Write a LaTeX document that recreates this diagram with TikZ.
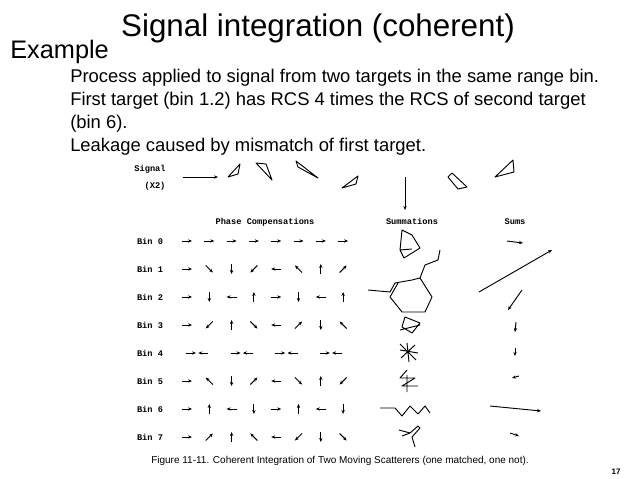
\documentclass[tikz,border=0pt]{standalone}
\usepackage{fontspec}
\setmainfont{Liberation Sans}
\newfontfamily\plotfont{Liberation Mono}
\usetikzlibrary{arrows.meta}
\tikzset{
 ph/.style={-{Stealth[length=3pt,width=2.5pt]},line width=0.7pt},
 sm/.style={line width=0.7pt,line join=round},
 lab/.style={font=\plotfont\bfseries\fontsize{6.5}{7}\selectfont,inner sep=0pt,anchor=base},
 body/.style={font=\fontsize{13.8}{16}\selectfont,anchor=west,inner sep=0pt}
}
\begin{document}
\begin{tikzpicture}[x=0.75pt,y=-0.75pt]
\useasboundingbox (0,0) rectangle (638,478);
\node[font=\fontsize{23.5}{27}\selectfont,inner sep=0pt] (title) at (318,28) {Signal integration (coherent)};
\node[font=\fontsize{19}{22}\selectfont,anchor=west,inner sep=0pt] (ex) at (10,52) {Example};
\node[body] (l1) at (70,78) {Process applied to signal from two targets in the same range bin.};
\node[body] (l2) at (70,101) {First target (bin 1.2) has RCS 4 times the RCS of second target};
\node[body] (l3) at (70,124) {(bin 6).};
\node[body] (l4) at (70,147) {Leakage caused by mismatch of first target.};
% signal
\node[lab] (sig) at (150,171) {Signal};
\node[lab] (x2) at (155,188) {(X2)};
\coordinate (sa) at (183,177); \coordinate (sb) at (218,177);
\draw[ph] (sa) -- (sb);
\draw[sm] (228,177)--(238,174)--(240,164)--cycle;
\draw[sm] (256,163)--(266,164)--(272,180)--cycle;
\draw[sm] (296,161)--(298,167)--(318,178)--cycle;
\draw[sm] (342,188)--(356,184)--(358,176)--cycle;
\draw[ph] (405,177) -- (405,210);
\draw[sm] (448,177)--(452,173)--(467,187)--(458,189)--cycle;
\draw[sm] (495,177)--(513,160)--(514,172)--cycle;
% headers
\node[lab] (hpc) at (265,224) {Phase Compensations};
\node[lab] (hsum) at (412,224) {Summations};
\node[lab] (hs) at (515,224) {Sums};
% bins
\foreach \r/\angs in {0/{0,0,0,0,0,0,0,0},1/{0,-45,-90,-135,180,135,90,45},2/{0,-90,180,90,0,-90,180,90},3/{0,-135,90,-45,180,45,-90,135},4/{0,180,0,180,0,180,0,180},5/{0,135,-90,45,180,-45,90,-135},6/{0,90,180,-90,0,90,180,-90},7/{0,45,90,135,180,-135,-90,-45}}{
 \pgfmathsetmacro\yy{241+28*\r}
 \node[lab] (bin\r) at (150,\yy+3) {Bin \r};
 \foreach \a [count=\i] in \angs {
  \pgfmathsetmacro\xx{187+22.3*(\i-1)+(\r==4 ? (mod(\i,2)==1 ? 4 : -6) : 0)}
  \draw[ph] ({\xx-5*cos(\a)},{\yy+5*sin(\a)}) -- ({\xx+5*cos(\a)},{\yy-5*sin(\a)});
 }
}
% summations
\draw[sm] (402,230)--(400,250)--(404,258)--(420,248)--(412,235)--cycle (400,250)--(412,249);
\draw[sm] (368,290)--(390,292)--(395,283)--(412,280)--(420,278)--(425,265)--(438,260)--(440,250);
\draw[sm] (420,278)--(432,297)--(425,312)--(402,312)--(390,297)--(398,283);
\draw[sm] (405,317)--(420,323)--(412,333)--(402,327)--cycle (400,330)--(420,325);
\draw[sm] (400,350)--(418,353) (407,343)--(409,362) (400,344)--(416,360) (415,345)--(401,358);
\draw[sm] (407,370)--(400,378)--(415,378)--(402,386)--(418,386) (407,375)--(407,392);
\draw[sm] (380,408)--(395,408)--(402,416)--(410,406)--(418,414)--(425,406)--(430,413);
\draw[sm] (399,430)--(410,433)--(418,426)--(420,428)--(412,437)--(415,447) (410,433)--(402,436);
% sums
\draw[ph] (507,241)--(523,243);
\draw[ph] (479,292)--(552,250);
\draw[ph] (522,290)--(508,310);
\draw[ph] (516,322)--(515,332);
\draw[ph] (515,348)--(515,356);
\draw[ph] (519,376)--(512,378);
\draw[ph] (490,406)--(541,411);
\draw[ph] (510,433)--(519,436);
\node[font=\fontsize{7.5}{9}\selectfont,inner sep=0pt] (cap) at (340,461) {Figure 11-11. Coherent Integration of Two Moving Scatterers (one matched, one not).};
\node[font=\bfseries\fontsize{6}{7}\selectfont,inner sep=0pt] (pg) at (616,472) {17};
\end{tikzpicture}
\end{document}
